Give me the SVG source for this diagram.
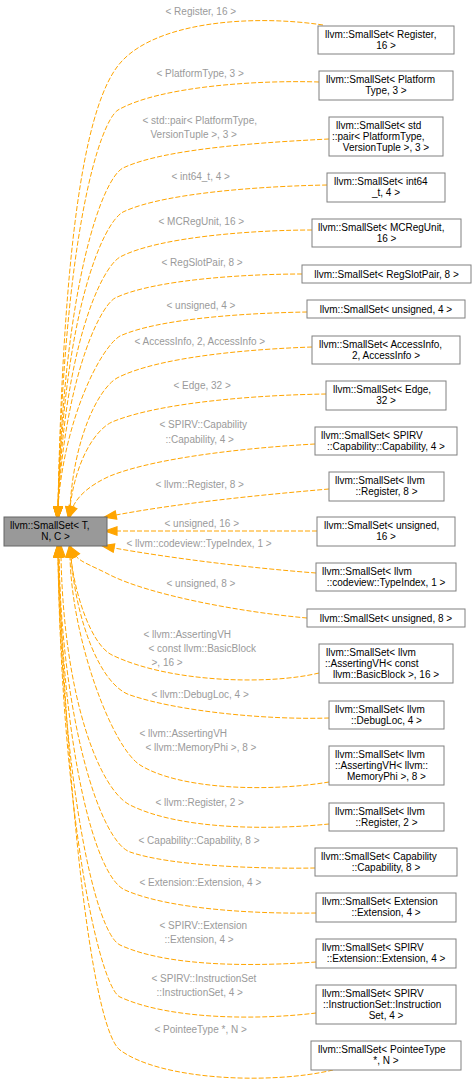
<svg xmlns="http://www.w3.org/2000/svg" width="474" height="1083" viewBox="0 0 474 1083">
<style>
.n rect{fill:#ffffff;stroke:#808080;stroke-width:1}
.main rect{fill:#999999;stroke:#666666;stroke-width:1}
.n text,.main text{font-family:"Liberation Sans",Arial,sans-serif;font-size:10px;fill:#000000}
.c{text-anchor:middle}
.e path{fill:none;stroke:#ffa500;stroke-width:1;stroke-dasharray:5,2;marker-end:url(#ah)}
.e text{font-family:"Liberation Sans",Arial,sans-serif;font-size:10px;fill:#9a9a9a}
</style>
<defs>
<marker id="ah" markerUnits="userSpaceOnUse" markerWidth="12" markerHeight="10" viewBox="0 0 10 7" refX="0" refY="3.5" orient="auto" overflow="visible">
<path d="M0,0 L10,3.5 L0,7 z" fill="#ffa500" stroke="#ffa500" stroke-width="1"/>
</marker>
</defs>
<rect width="474" height="1083" fill="#ffffff"/>
<g id="connectors" class="e">
<g><path d="M323,25 C250,14 150,22 117,67 C92,101 64,200 58,507"/><text x="165.5" y="14.5">&lt; Register, 16 &gt;</text></g>
<g><path d="M319,82 C260,80 160,86 118,110 C100,122 64,230 58,507"/><text x="156.5" y="77">&lt; PlatformType, 3 &gt;</text></g>
<g><path d="M329,139 C270,142 165,148 123,168 C103,178 64,280 58,507"/><text x="142.5" y="124">&lt; std::pair&lt; PlatformType,</text><text x="150.5" y="138">VersionTuple &gt;, 3 &gt;</text></g>
<g><path d="M327,185 C270,186 165,192 123,212 C103,223 64,310 58,507"/><text x="171.5" y="180">&lt; int64_t, 4 &gt;</text></g>
<g><path d="M312,230 C260,230 160,236 120,257 C100,269 64,350 58,507"/><text x="158.5" y="225">&lt; MCRegUnit, 16 &gt;</text></g>
<g><path d="M302,274 C250,274 155,279 115,298 C96,310 64,390 58,507"/><text x="161.5" y="266">&lt; RegSlotPair, 8 &gt;</text></g>
<g><path d="M307,312 C250,313 160,318 120,336 C100,348 64,420 58,507"/><text x="166.5" y="309">&lt; unsigned, 4 &gt;</text></g>
<g><path d="M312,347 C255,349 160,356 117,378 C97,390 74,440 70,507"/><text x="134.5" y="344.5">&lt; AccessInfo, 2, AccessInfo &gt;</text></g>
<g><path d="M326,394 C260,395 160,402 112,422 C95,430 76,460 70,507"/><text x="173.5" y="389">&lt; Edge, 32 &gt;</text></g>
<g><path d="M315,444 C260,447 160,456 110,476 C92,484 78,495 73,507"/><text x="159.5" y="428">&lt; SPIRV::Capability</text><text x="165.5" y="442.5">::Capability, 4 &gt;</text></g>
<g><path d="M329,489 C260,495 180,503 116,515"/><text x="155.5" y="487.5">&lt; llvm::Register, 8 &gt;</text></g>
<g><path d="M317,531 L117,531"/><text x="164.5" y="526.5">&lt; unsigned, 16 &gt;</text></g>
<g><path d="M316,573 C250,568 170,558 114,548"/><text x="126.5" y="546.5">&lt; llvm::codeview::TypeIndex, 1 &gt;</text></g>
<g><path d="M307,618 C240,612 150,595 110,575 C95,567 80,562 76,556"/><text x="166.5" y="586.5">&lt; unsigned, 8 &gt;</text></g>
<g><path d="M319,673 C270,685 170,683 112,655 C90,644 74,590 71,557"/><text x="143.5" y="637.5">&lt; llvm::AssertingVH</text><text x="148.5" y="651.5">&lt; const llvm::BasicBlock</text><text x="151.5" y="665.5">&gt;, 16 &gt;</text></g>
<g><path d="M329,718 C270,720 180,712 130,695 C100,685 76,620 71,557"/><text x="151.5" y="697.5">&lt; llvm::DebugLoc, 4 &gt;</text></g>
<g><path d="M329,782 C270,792 180,790 140,765 C112,747 72,640 70,557"/><text x="139.5" y="736.5">&lt; llvm::AssertingVH</text><text x="145.5" y="750.5">&lt; llvm::MemoryPhi &gt;, 8 &gt;</text></g>
<g><path d="M329,824 C270,830 180,830 130,805 C100,790 64,700 61,557"/><text x="155.5" y="806">&lt; llvm::Register, 2 &gt;</text></g>
<g><path d="M315,868 C260,869 170,866 130,852 C100,841 62,720 59,557"/><text x="138.5" y="843.5">&lt; Capability::Capability, 8 &gt;</text></g>
<g><path d="M316,913 C260,914 170,910 125,890 C95,877 62,750 59,557"/><text x="139.5" y="885.5">&lt; Extension::Extension, 4 &gt;</text></g>
<g><path d="M316,962 C260,966 170,968 120,945 C95,933 62,780 58,557"/><text x="159.5" y="929">&lt; SPIRV::Extension</text><text x="164.5" y="943">::Extension, 4 &gt;</text></g>
<g><path d="M316,1013 C260,1020 170,1020 120,997 C100,988 62,820 58,557"/><text x="151.5" y="982">&lt; SPIRV::InstructionSet</text><text x="156.5" y="996">::InstructionSet, 4 &gt;</text></g>
<g><path d="M333,1070 C270,1085 160,1080 120,1050 C96,1032 70,850 58,557"/><text x="154.5" y="1033">&lt; PointeeType *, N &gt;</text></g>
</g>
<g id="node0" class="main"><rect x="4" y="517" width="103" height="29"/><text x="10" y="528.5">llvm::SmallSet&lt; T,</text><text class="c" x="55.5" y="539.5">N, C &gt;</text></g>
<g id="node1" class="n"><rect x="318" y="26" width="136" height="28"/><text x="325" y="37.5">llvm::SmallSet&lt; Register,</text><text class="c" x="386" y="48.5">16 &gt;</text></g>
<g id="node2" class="n"><rect x="319" y="71" width="134" height="29"/><text x="326" y="82.5">llvm::SmallSet&lt; Platform</text><text class="c" x="386" y="93.5">Type, 3 &gt;</text></g>
<g id="node3" class="n"><rect x="329" y="117" width="114" height="39"/><text x="336" y="128.5">llvm::SmallSet&lt; std</text><text x="332" y="139.5">::pair&lt; PlatformType,</text><text class="c" x="386" y="150.5">VersionTuple &gt;, 3 &gt;</text></g>
<g id="node4" class="n"><rect x="327" y="173" width="118" height="29"/><text x="334" y="184.5">llvm::SmallSet&lt; int64</text><text class="c" x="386" y="195.5">_t, 4 &gt;</text></g>
<g id="node5" class="n"><rect x="312" y="219" width="149" height="28"/><text x="318" y="230.5">llvm::SmallSet&lt; MCRegUnit,</text><text class="c" x="386.5" y="241.5">16 &gt;</text></g>
<g id="node6" class="n"><rect x="302" y="265" width="169" height="18"/><text class="c" x="386.5" y="277.5">llvm::SmallSet&lt; RegSlotPair, 8 &gt;</text></g>
<g id="node7" class="n"><rect x="307" y="300" width="158" height="18"/><text class="c" x="386" y="312.5">llvm::SmallSet&lt; unsigned, 4 &gt;</text></g>
<g id="node8" class="n"><rect x="312" y="336" width="148" height="28"/><text x="319" y="347.5">llvm::SmallSet&lt; AccessInfo,</text><text class="c" x="386" y="358.5">2, AccessInfo &gt;</text></g>
<g id="node9" class="n"><rect x="326" y="381" width="120" height="29"/><text x="333" y="392.5">llvm::SmallSet&lt; Edge,</text><text class="c" x="386" y="403.5">32 &gt;</text></g>
<g id="node10" class="n"><rect x="315" y="427" width="142" height="28"/><text x="321" y="438.5">llvm::SmallSet&lt; SPIRV</text><text class="c" x="386" y="449.5">::Capability::Capability, 4 &gt;</text></g>
<g id="node11" class="n"><rect x="329" y="472" width="115" height="29"/><text x="335" y="483.5">llvm::SmallSet&lt; llvm</text><text class="c" x="386.5" y="494.5">::Register, 8 &gt;</text></g>
<g id="node12" class="n"><rect x="317" y="517" width="138" height="29"/><text x="324" y="528.5">llvm::SmallSet&lt; unsigned,</text><text class="c" x="386" y="539.5">16 &gt;</text></g>
<g id="node13" class="n"><rect x="316" y="563" width="140" height="28"/><text x="322" y="574.5">llvm::SmallSet&lt; llvm</text><text class="c" x="386" y="585.5">::codeview::TypeIndex, 1 &gt;</text></g>
<g id="node14" class="n"><rect x="307" y="609" width="158" height="18"/><text class="c" x="386" y="621.5">llvm::SmallSet&lt; unsigned, 8 &gt;</text></g>
<g id="node15" class="n"><rect x="319" y="644" width="134" height="39"/><text x="326" y="655.5">llvm::SmallSet&lt; llvm</text><text x="325" y="666.5">::AssertingVH&lt; const</text><text class="c" x="386" y="677.5">llvm::BasicBlock &gt;, 16 &gt;</text></g>
<g id="node16" class="n"><rect x="329" y="701" width="115" height="28"/><text x="335" y="712.5">llvm::SmallSet&lt; llvm</text><text class="c" x="386.5" y="723.5">::DebugLoc, 4 &gt;</text></g>
<g id="node17" class="n"><rect x="329" y="746" width="115" height="39"/><text x="335" y="757.5">llvm::SmallSet&lt; llvm</text><text x="335" y="768.5">::AssertingVH&lt; llvm::</text><text class="c" x="386.5" y="779.5">MemoryPhi &gt;, 8 &gt;</text></g>
<g id="node18" class="n"><rect x="329" y="803" width="115" height="28"/><text x="335" y="814.5">llvm::SmallSet&lt; llvm</text><text class="c" x="386.5" y="825.5">::Register, 2 &gt;</text></g>
<g id="node19" class="n"><rect x="315" y="848" width="142" height="28"/><text x="321" y="859.5">llvm::SmallSet&lt; Capability</text><text class="c" x="386" y="870.5">::Capability, 8 &gt;</text></g>
<g id="node20" class="n"><rect x="316" y="893" width="140" height="29"/><text x="322" y="904.5">llvm::SmallSet&lt; Extension</text><text class="c" x="386" y="915.5">::Extension, 4 &gt;</text></g>
<g id="node21" class="n"><rect x="316" y="939" width="140" height="29"/><text x="322" y="950.5">llvm::SmallSet&lt; SPIRV</text><text class="c" x="386" y="961.5">::Extension::Extension, 4 &gt;</text></g>
<g id="node22" class="n"><rect x="316" y="985" width="140" height="39"/><text x="322" y="996.5">llvm::SmallSet&lt; SPIRV</text><text x="323" y="1007.5">::InstructionSet::Instruction</text><text class="c" x="386" y="1018.5">Set, 4 &gt;</text></g>
<g id="node23" class="n"><rect x="311" y="1041" width="150" height="29"/><text x="318" y="1052.5">llvm::SmallSet&lt; PointeeType</text><text class="c" x="386" y="1063.5">*, N &gt;</text></g>
</svg>
